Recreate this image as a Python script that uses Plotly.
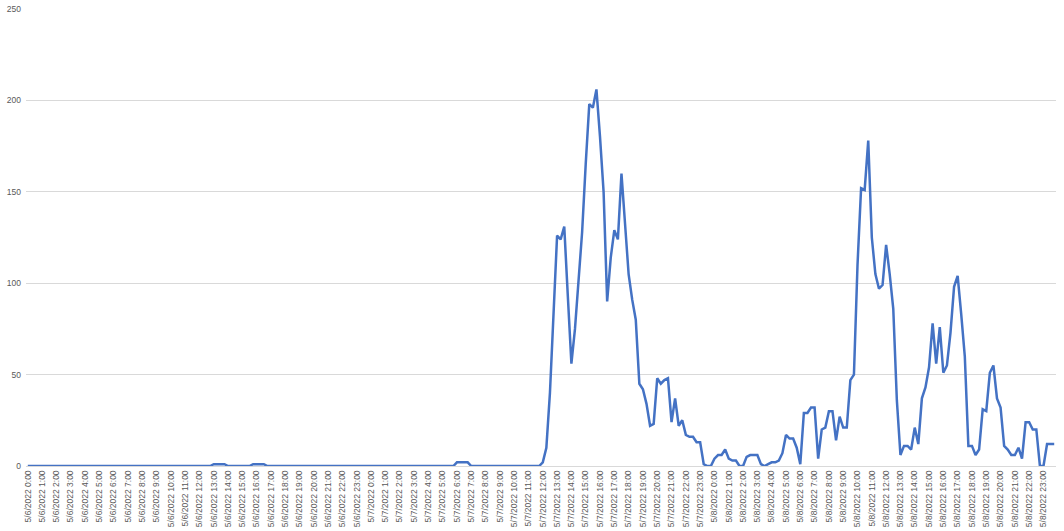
import plotly.graph_objects as go

days = ["5/6/2022", "5/7/2022", "5/8/2022"]
hours = list(range(24))
minutes = [0, 15, 30, 45]

# 15-minute categories
categories = [f"{d} {h}:{m:02d}" for d in days for h in hours for m in minutes]
tick_labels = [f"{d} {h}:00" for d in days for h in hours]

values_day1 = [
    0, 0, 0, 0, 0, 0, 0, 0, 0, 0, 0, 0, 0, 0, 0, 0,
    0, 0, 0, 0, 0, 0, 0, 0, 0, 0, 0, 0, 0, 0, 0, 0,
    0, 0, 0, 0, 0, 0, 0, 0, 0, 0, 0, 0, 0, 0, 0, 0,
    0, 0, 0, 0, 1, 1, 1, 1, 0, 0, 0, 0, 0, 0, 0, 1,
    1, 1, 1, 0, 0, 0, 0, 0, 0, 0, 0, 0, 0, 0, 0, 0,
    0, 0, 0, 0, 0, 0, 0, 0, 0, 0, 0, 0, 0, 0, 0, 0,
]
values_day2 = [
    0, 0, 0, 0, 0, 0, 0, 0, 0, 0, 0, 0, 0, 0, 0, 0,
    0, 0, 0, 0, 0, 0, 0, 0, 2, 2, 2, 2, 0, 0, 0, 0,
    0, 0, 0, 0, 0, 0, 0, 0, 0, 0, 0, 0, 0, 0, 0, 0,
    2, 10, 40, 83, 126, 124, 131, 93, 56, 75, 100, 128, 165, 198, 196, 206,
    180, 150, 90, 114, 129, 124, 160, 133, 105, 91, 80, 45, 42, 34, 22, 23,
    48, 45, 47, 48, 24, 37, 22, 25, 17, 16, 16, 13, 13, 1, 0, 0,
]
values_day3 = [
    4, 6, 6, 9, 4, 3, 3, 0, 0, 5, 6, 6, 6, 1, 0, 1,
    2, 2, 3, 7, 17, 15, 15, 10, 1, 29, 29, 32, 32, 4, 20, 21,
    30, 30, 14, 27, 21, 21, 47, 50, 110, 152, 151, 178, 125, 105, 97, 99,
    121, 105, 86, 36, 6, 11, 11, 9, 21, 12, 37, 43, 54, 78, 56, 76,
    51, 55, 73, 98, 104, 83, 60, 11, 11, 6, 9, 31, 30, 51, 55, 37,
    32, 11, 9, 6, 6, 10, 4, 24, 24, 20, 20, 0, 0, 12, 12, 12,
]
values = values_day1 + values_day2 + values_day3

fig = go.Figure()
fig.add_trace(go.Scatter(
    x=categories, y=values, mode="lines",
    line=dict(color="#4472C4", width=2.5),
    hoverinfo="x+y",
))

fig.update_layout(
    width=1064, height=531, autosize=False,
    margin=dict(l=26, r=8, t=9, b=65),
    paper_bgcolor="white", plot_bgcolor="white",
    showlegend=False,
    font=dict(family="Liberation Sans, Arial, sans-serif", size=8.5, color="#595959"),
)
fig.update_xaxes(
    type="category",
    categoryorder="array", categoryarray=categories,
    range=[-0.5, len(categories) - 0.5],
    tickmode="array", tickvals=tick_labels, ticktext=tick_labels,
    tickangle=-90, showgrid=False, ticks="",
    showline=True, linecolor="#d9d9d9", linewidth=1,
    zeroline=False, automargin=False,
    tickfont=dict(size=8.5, color="#595959"),
)
fig.update_yaxes(
    range=[0, 250], dtick=50, tick0=0,
    showgrid=True, gridcolor="#d9d9d9", gridwidth=1,
    zeroline=False, showline=False, ticks="",
    automargin=False, ticklabelstandoff=4,
    tickfont=dict(size=8.5, color="#595959"),
)

fig.write_html(
    "out.html",
    config={"displayModeBar": False},
    post_script="document.body.style.margin='0';document.body.style.padding='0';",
)
